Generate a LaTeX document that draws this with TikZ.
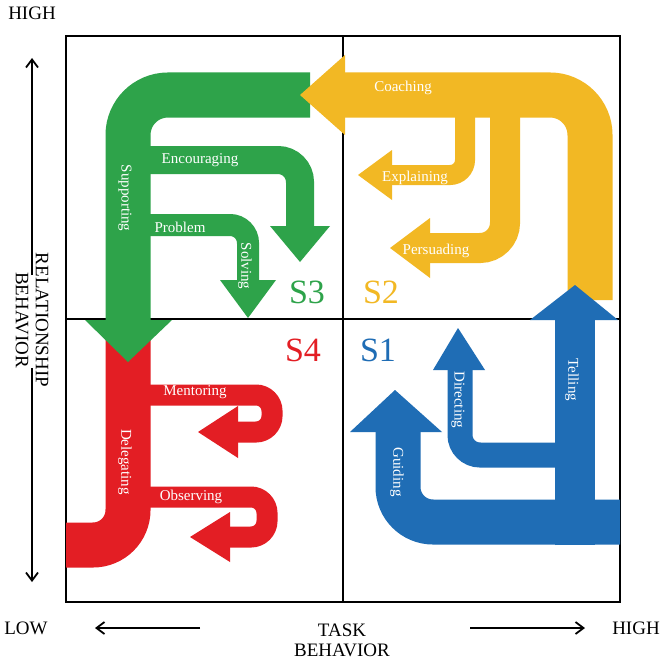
\documentclass[tikz,border=0pt]{standalone}
\usepackage{fontspec}
\setmainfont{Liberation Serif}
\usetikzlibrary{arrows.meta}
\begin{document}
\begin{tikzpicture}[x=1pt,y=-1pt]
\definecolor{cg}{HTML}{2EA34A}
\definecolor{cy}{HTML}{F2B824}
\definecolor{cr}{HTML}{E31E24}
\definecolor{cb}{HTML}{1F6DB5}
\tikzset{band/.style={draw=#1,line cap=butt},
 lab/.style={text=white,font=\fontsize{15}{15}\selectfont},
 rlab/.style={lab,rotate=-90},
 axl/.style={font=\fontsize{19}{20}\selectfont,align=center},
 sl/.style={font=\fontsize{34}{34}\selectfont},
 ax/.style={-{Straight Barb[length=8pt,width=12pt]},line width=1.8pt}}
\useasboundingbox (0,0) rectangle (669,669);
\fill[white] (0,0) rectangle (669,669);
\draw[line width=2pt] (66,36) rectangle (620,602);
\draw[line width=1.5pt] (343,36) -- (343,602) (66,319) -- (620,319);
% red
\draw[band=cr,line width=45pt,rounded corners=35pt] (128,340)--(128,545)--(66,545);
\draw[band=cr,line width=21pt,rounded corners=16pt] (140,395)--(272,395)--(272,432)--(235,432);
\fill[cr] (198,432)--(238,406)--(238,458)--cycle;
\draw[band=cr,line width=21pt,rounded corners=16pt] (140,497)--(267,497)--(267,537)--(228,537);
\fill[cr] (190,537)--(230,512)--(230,562)--cycle;
% blue
\draw[band=cb,line width=45pt,rounded corners=35pt] (620,522)--(398,522)--(398,430);
\fill[cb] (395,390)--(350,432)--(442,432)--cycle;
\draw[band=cb,line width=25pt,rounded corners=20pt] (560,455)--(460,455)--(460,368);
\fill[cb] (458,328)--(433,370)--(485,370)--cycle;
% green
\draw[band=cg,line width=45pt,rounded corners=40pt] (310,95)--(128,95)--(128,322);
\fill[cg] (128,362)--(85,320)--(172,320)--cycle;
\draw[band=cg,line width=28pt,rounded corners=22pt] (128,160)--(300,160)--(300,228);
\fill[cg] (300,262)--(270,226)--(330,226)--cycle;
\draw[band=cg,line width=22pt,rounded corners=18pt] (128,225)--(248,225)--(248,282);
\fill[cg] (248,318)--(220,280)--(276,280)--cycle;
% yellow
\draw[band=cy,line width=45pt,rounded corners=40pt] (590,300)--(590,95)--(340,95);
\fill[cy] (300,95)--(345,55)--(345,135)--cycle;
\draw[band=cy,line width=20pt,rounded corners=15pt] (465,110)--(465,175)--(390,175);
\fill[cy] (358,175)--(392,150)--(392,200)--cycle;
\draw[band=cy,line width=30pt,rounded corners=25pt] (505,110)--(505,248)--(428,248);
\fill[cy] (390,248)--(430,218)--(430,278)--cycle;
% blue telling on top
\draw[band=cb,line width=40pt] (575,545)--(575,318);
\fill[cb] (575,285)--(530,320)--(618,320)--cycle;
% labels
\node[lab] (t1) at (403,88) {Coaching};
\node[lab] (t2) at (415,178) {Explaining};
\node[lab] (t3) at (436,251) {Persuading};
\node[lab] (t4) at (200,160) {Encouraging};
\node[lab] (t5) at (180,227) {Problem};
\node[rlab] (t6) at (245,266) {Solving};
\node[rlab] (t7) at (125,198) {Supporting};
\node[lab] (t8) at (195,392) {Mentoring};
\node[lab] (t9) at (191,497) {Observing};
\node[rlab] (t10) at (125,462) {Delegating};
\node[rlab] (t11) at (397,472) {Guiding};
\node[rlab] (t12) at (458,400) {Directing};
\node[rlab] (t13) at (572,380) {Telling};
\node[sl,text=cg] (s3) at (307,292) {S3};
\node[sl,text=cy] (s2) at (381,292) {S2};
\node[sl,text=cr] (s4) at (303,350) {S4};
\node[sl,text=cb] (s1) at (378,350) {S1};
% axes
\node[axl] (h1) at (32,13) {HIGH};
\node[axl] (l1) at (26,628) {LOW};
\node[axl] (h2) at (636,628) {HIGH};
\node[axl] (tb) at (342,640) {TASK\\BEHAVIOR};
\node[axl,rotate=-90] (rb) at (32,320) {RELATIONSHIP\\BEHAVIOR};
\coordinate (a1) at (32,275); \coordinate (a2) at (32,58);
\coordinate (a3) at (32,368); \coordinate (a4) at (32,582);
\coordinate (a5) at (200,628); \coordinate (a6) at (95,628);
\coordinate (a7) at (470,628); \coordinate (a8) at (585,628);
\draw[ax] (a1)--(a2); \draw[ax] (a3)--(a4);
\draw[ax] (a5)--(a6); \draw[ax] (a7)--(a8);
\end{tikzpicture}
\end{document}
